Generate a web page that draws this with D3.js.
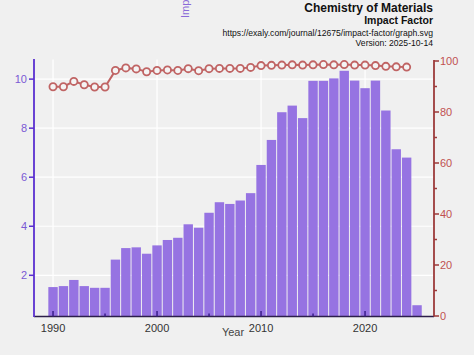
<!DOCTYPE html>
<html><head><meta charset="utf-8">
<script src="https://cdn.jsdelivr.net/npm/d3@7"></script>
<style>
html,body{margin:0;padding:0;background:#f0f0f0;}
svg{display:block;font-family:"Liberation Sans",Arial,sans-serif;}
</style></head>
<body>
<svg id="c" width="474" height="355"></svg>
<script>
const years = d3.range(1990, 2026);
const impactFactor = [1.52,1.56,1.81,1.56,1.49,1.49,2.64,3.11,3.14,2.88,3.22,3.44,3.53,4.08,3.94,4.55,4.98,4.91,5.05,5.35,6.5,7.52,8.65,8.92,8.41,9.93,9.93,10.03,10.34,9.94,9.63,9.94,8.72,7.14,6.8,0.78];
const lineYears = d3.range(1990, 2025);
const percentile = [89.9,89.9,92.0,90.7,89.8,89.8,96.3,97.3,96.9,95.8,96.3,96.5,96.3,97.0,96.2,97.0,97.1,97.1,97.1,97.5,98.2,98.3,98.4,98.5,98.4,98.5,98.6,98.5,98.6,98.4,98.4,98.2,97.9,97.7,97.6];
const leftTicks = [2,4,6,8,10];
const rightTicks = [0,20,40,60,80,100];
const xTicks = [1990,2000,2010,2020];
const titles = ["Chemistry of Materials","Impact Factor","https://exaly.com/journal/12675/impact-factor/graph.svg","Version: 2025-10-14"];

const svg = d3.select("#c");
const x = d3.scaleLinear().domain([1988.17, 2026.63]).range([34, 434]);
const yL = d3.scaleLinear().domain([0.32, 10.8]).range([316.5, 59.5]);
const yR = d3.scaleLinear().domain([0, 100]).range([316, 61]);

// grid
const g = svg.append("g");
g.selectAll("line.h").data(leftTicks).join("line")
  .attr("x1", 34).attr("x2", 434).attr("y1", d => yL(d)).attr("y2", d => yL(d))
  .attr("stroke", "#ffffff").attr("stroke-width", 1.2);
g.selectAll("line.v").data(xTicks).join("line")
  .attr("x1", d => x(d)).attr("x2", d => x(d)).attr("y1", 59.5).attr("y2", 316.5)
  .attr("stroke", "#ffffff").attr("stroke-width", 1.2);

// bars
const bw = x(1991) - x(1990);
svg.append("g").selectAll("rect").data(years).join("rect")
  .attr("x", (d) => x(d) - bw/2 + 0.5)
  .attr("width", bw - 1)
  .attr("y", (d,i) => yL(impactFactor[i]))
  .attr("height", (d,i) => yL(0.32) - yL(impactFactor[i]))
  .attr("fill", "#9673e2");

// line
const lineData = lineYears.map((d,i) => [d, percentile[i]]);
svg.append("path").datum(lineData)
  .attr("d", d3.line().x(d => x(d[0])).y(d => yR(d[1])))
  .attr("fill", "none").attr("stroke", "#c06464").attr("stroke-width", 2);
svg.append("g").selectAll("circle").data(lineData).join("circle")
  .attr("cx", d => x(d[0])).attr("cy", d => yR(d[1])).attr("r", 3.6)
  .attr("fill", "#f4f4f4").attr("stroke", "#c06464").attr("stroke-width", 1.8);

// x axis
const xAx = svg.append("g").attr("transform", "translate(0,316.5)");
xAx.append("line").attr("x1", 34).attr("x2", 434).attr("stroke", "#2c1f4a").attr("stroke-width", 1.5);
xAx.selectAll("line.mj").data(xTicks).join("line")
  .attr("x1", d => x(d)).attr("x2", d => x(d)).attr("y1", 0).attr("y2", -5.5)
  .attr("stroke", "#3a1d8a").attr("stroke-width", 1.5);
xAx.selectAll("line.mn").data([1995,2005,2015]).join("line")
  .attr("x1", d => x(d)).attr("x2", d => x(d)).attr("y1", 0).attr("y2", -3)
  .attr("stroke", "#3a1d8a").attr("stroke-width", 1.5);
xAx.selectAll("text").data(xTicks).join("text")
  .attr("x", d => x(d)).attr("y", 15).attr("text-anchor", "middle")
  .attr("font-size", 11).attr("fill", "#333").text(d => d);
svg.append("text").attr("x", 233).attr("y", 336).attr("text-anchor", "middle")
  .attr("font-size", 11).attr("fill", "#444").text("Year");

// left axis
const lc = "#5a2fd0";
const lA = svg.append("g");
lA.append("line").attr("x1", 34).attr("x2", 34).attr("y1", 59).attr("y2", 317)
  .attr("stroke", lc).attr("stroke-width", 1.8);
lA.selectAll("line.t").data(leftTicks).join("line")
  .attr("x1", 29).attr("x2", 34).attr("y1", d => yL(d)).attr("y2", d => yL(d))
  .attr("stroke", lc).attr("stroke-width", 1.5);
lA.selectAll("text").data(leftTicks).join("text")
  .attr("x", 27).attr("y", d => yL(d) + 4).attr("text-anchor", "end")
  .attr("font-size", 11).attr("fill", "#7a5ad4").text(d => d);
svg.append("text").attr("transform", "translate(189,18) rotate(-90)")
  .attr("text-anchor", "start").attr("font-size", 11).attr("fill", "#8a6ad8").text("Impact Factor");

// right axis
const rc = "#9c3a3a";
const rA = svg.append("g");
rA.append("line").attr("x1", 434).attr("x2", 434).attr("y1", 60).attr("y2", 316.5)
  .attr("stroke", rc).attr("stroke-width", 1.8);
rA.selectAll("line.t").data(d3.range(0, 101, 10)).join("line")
  .attr("x1", 434).attr("x2", d => d % 20 === 0 ? 439 : 437)
  .attr("y1", d => yR(d)).attr("y2", d => yR(d))
  .attr("stroke", rc).attr("stroke-width", 1.5);
rA.selectAll("text").data(rightTicks).join("text")
  .attr("x", 440).attr("y", d => yR(d) + 4).attr("text-anchor", "start")
  .attr("font-size", 11).attr("fill", "#c05050").text(d => d);

// titles
const tf = [[12, "bold", 12], [10.5, "bold", 23.5], [8.6, "normal", 36], [8.6, "normal", 46]];
titles.forEach((t, i) => {
  svg.append("text").attr("x", 433).attr("y", tf[i][2]).attr("text-anchor", "end")
    .attr("font-size", tf[i][0]).attr("font-weight", tf[i][1]).attr("fill", "#111").text(t);
});
</script>
</body></html>
